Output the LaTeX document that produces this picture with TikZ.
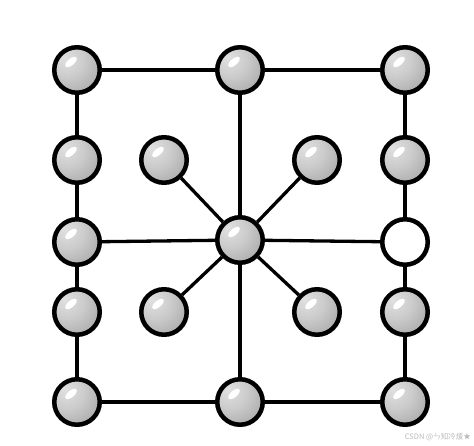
\documentclass[tikz,border=0pt]{standalone}
\usepackage{fontspec}
\newfontfamily\cjk{Noto Sans CJK SC}
\usepackage{tikz}
\usetikzlibrary{shapes,arrows}
\pgfdeclareradialshading{marble}{\pgfpoint{-14bp}{14bp}}{color(0bp)=(black!12); color(18bp)=(black!20); color(40bp)=(black!35); color(62bp)=(black!50); color(80bp)=(black!55)}
\tikzstyle{ball} = [circle, draw, line width=4.5pt, minimum size=45.5pt, inner sep=0pt,
    shading=marble,
    path picture={\fill[white] ([shift={(-6pt,8pt)}]path picture bounding box.center) circle [x radius=7pt, y radius=3.3pt, rotate=40];}]
\tikzstyle{hole} = [circle, draw, line width=4.5pt, minimum size=45.5pt, inner sep=0pt, fill=white]
\tikzstyle{line} = [draw, line width=3.3pt]

\begin{document}
\begin{tikzpicture}[x=1pt, y=-1pt]
			\useasboundingbox (0,0) rectangle (474,445);
			% Place nodes
			\node [ball] (topLeft) at (77,70) {};
			\node [ball] (topMid) at (240,70) {};
			\node [ball] (topRight) at (405,70) {};
			\node [ball] (leftUpper) at (77,160) {};
			\node [ball] (innerNW) at (164,160) {};
			\node [ball] (innerNE) at (317,160) {};
			\node [ball] (rightUpper) at (405,160) {};
			\node [ball] (leftMid) at (77,242) {};
			\node [ball] (center) at (240,240) {};
			\node [hole] (rightMid) at (405,242) {};
			\node [ball] (leftLower) at (77,312) {};
			\node [ball] (innerSW) at (164,312) {};
			\node [ball] (innerSE) at (317,312) {};
			\node [ball] (rightLower) at (405,312) {};
			\node [ball] (bottomLeft) at (77,402) {};
			\node [ball] (bottomMid) at (240,402) {};
			\node [ball] (bottomRight) at (405,402) {};
			%
			\path [line] (topLeft) -- (topMid);
			\path [line] (topMid) -- (topRight);
			\path [line] (bottomLeft) -- (bottomMid);
			\path [line] (bottomMid) -- (bottomRight);
			\path [line] (topLeft) -- (leftUpper);
			\path [line] (leftUpper) -- (leftMid);
			\path [line] (leftMid) -- (leftLower);
			\path [line] (leftLower) -- (bottomLeft);
			\path [line] (topRight) -- (rightUpper);
			\path [line] (rightUpper) -- (rightMid);
			\path [line] (rightMid) -- (rightLower);
			\path [line] (rightLower) -- (bottomRight);
			\path [line] (leftMid) -- (center);
			\path [line] (center) -- (rightMid);
			\path [line] (topMid) -- (center);
			\path [line] (center) -- (bottomMid);
			\path [line] (center) -- (innerNW);
			\path [line] (center) -- (innerNE);
			\path [line] (center) -- (innerSW);
			\path [line] (center) -- (innerSE);
			% watermark
			\node [anchor=east, text=gray!55, font=\cjk\fontsize{7.5}{9}\selectfont, inner sep=0pt] (mark) at (471,437) {CSDN @ㄣ知冷煖★};
\end{tikzpicture}
\end{document}
